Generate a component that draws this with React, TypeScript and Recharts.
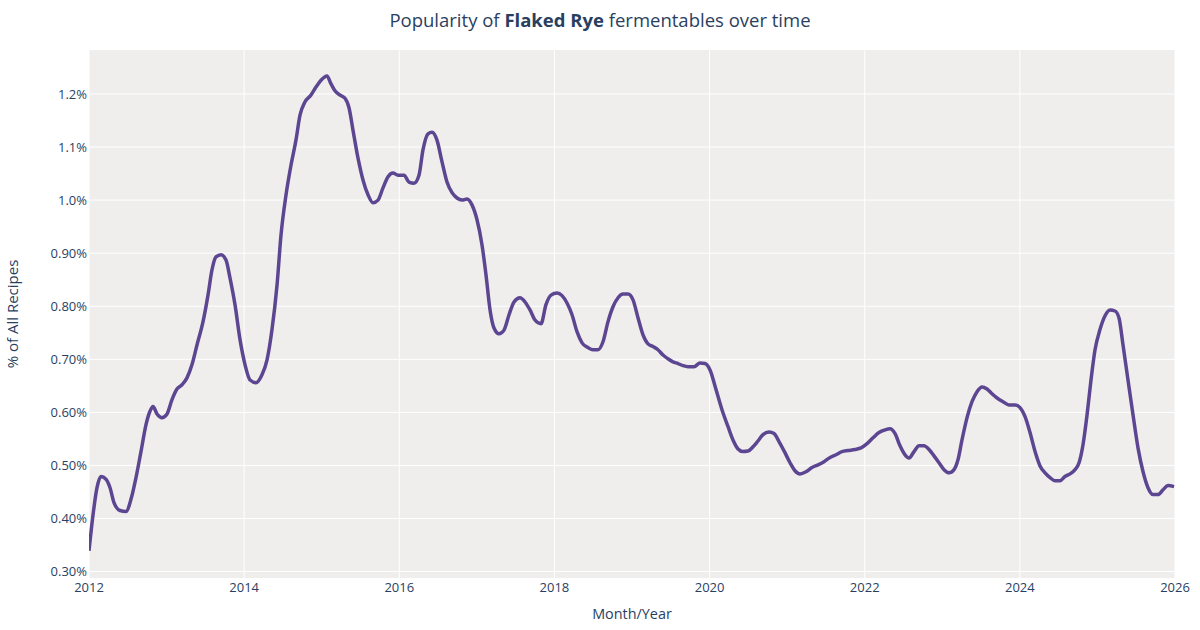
import React from "react";
import { LineChart, Line, XAxis, YAxis, CartesianGrid } from "recharts";

const years: number[] = [
  2012.0, 2012.052, 2012.103, 2012.155, 2012.219, 2012.271, 2012.322, 2012.4, 2012.477, 2012.541,
  2012.606, 2012.67, 2012.735, 2012.786, 2012.825, 2012.877, 2012.941, 2013.006, 2013.07, 2013.134,
  2013.199, 2013.263, 2013.328, 2013.392, 2013.47, 2013.534, 2013.586, 2013.637, 2013.702, 2013.766,
  2013.818, 2013.882, 2013.947, 2014.011, 2014.076, 2014.153, 2014.23, 2014.295, 2014.359, 2014.424,
  2014.475, 2014.54, 2014.604, 2014.668, 2014.72, 2014.784, 2014.862, 2014.926, 2014.991, 2015.068,
  2015.12, 2015.171, 2015.236, 2015.3, 2015.352, 2015.403, 2015.468, 2015.532, 2015.597, 2015.661,
  2015.726, 2015.79, 2015.855, 2015.919, 2015.984, 2016.061, 2016.125, 2016.19, 2016.254, 2016.306,
  2016.37, 2016.422, 2016.486, 2016.551, 2016.615, 2016.68, 2016.744, 2016.809, 2016.873, 2016.937,
  2017.002, 2017.066, 2017.118, 2017.17, 2017.221, 2017.286, 2017.35, 2017.415, 2017.479, 2017.556,
  2017.621, 2017.685, 2017.75, 2017.827, 2017.891, 2017.956, 2018.033, 2018.098, 2018.162, 2018.227,
  2018.291, 2018.356, 2018.433, 2018.497, 2018.562, 2018.626, 2018.691, 2018.755, 2018.82, 2018.884,
  2018.949, 2019.013, 2019.078, 2019.142, 2019.206, 2019.271, 2019.335, 2019.4, 2019.464, 2019.529,
  2019.593, 2019.658, 2019.722, 2019.8, 2019.877, 2019.941, 2020.006, 2020.083, 2020.16, 2020.238,
  2020.302, 2020.367, 2020.431, 2020.495, 2020.56, 2020.624, 2020.689, 2020.766, 2020.831, 2020.895,
  2020.972, 2021.037, 2021.101, 2021.166, 2021.243, 2021.32, 2021.398, 2021.475, 2021.553, 2021.63,
  2021.707, 2021.785, 2021.875, 2021.952, 2022.03, 2022.107, 2022.184, 2022.262, 2022.326, 2022.391,
  2022.455, 2022.52, 2022.571, 2022.636, 2022.7, 2022.764, 2022.829, 2022.893, 2022.958, 2023.022,
  2023.087, 2023.151, 2023.203, 2023.254, 2023.319, 2023.383, 2023.448, 2023.512, 2023.577, 2023.641,
  2023.706, 2023.783, 2023.86, 2023.938, 2024.002, 2024.067, 2024.131, 2024.196, 2024.26, 2024.325,
  2024.389, 2024.454, 2024.518, 2024.582, 2024.647, 2024.711, 2024.763, 2024.814, 2024.866, 2024.917,
  2024.969, 2025.033, 2025.098, 2025.162, 2025.227, 2025.278, 2025.33, 2025.394, 2025.459, 2025.523,
  2025.588, 2025.652, 2025.717, 2025.781, 2025.846, 2025.91, 2025.988,
];

const popularity: number[] = [
  0.339, 0.407, 0.458, 0.479, 0.474, 0.458, 0.43, 0.415, 0.413, 0.436,
  0.477, 0.526, 0.577, 0.602, 0.611, 0.597, 0.59, 0.597, 0.624, 0.644,
  0.652, 0.665, 0.69, 0.727, 0.771, 0.821, 0.869, 0.893, 0.897, 0.887,
  0.853, 0.803, 0.737, 0.69, 0.661, 0.656, 0.671, 0.699, 0.756, 0.84,
  0.934, 1.01, 1.066, 1.113, 1.16, 1.185, 1.198, 1.213, 1.226, 1.234,
  1.219, 1.206, 1.198, 1.192, 1.174, 1.132, 1.079, 1.038, 1.01, 0.995,
  1.0, 1.023, 1.044, 1.051, 1.047, 1.047, 1.034, 1.032, 1.047, 1.095,
  1.125, 1.128, 1.113, 1.072, 1.034, 1.014, 1.004, 1.0, 1.002, 0.991,
  0.963, 0.916, 0.859, 0.793, 0.759, 0.748, 0.755, 0.784, 0.808, 0.816,
  0.808, 0.793, 0.774, 0.767, 0.803, 0.821, 0.825, 0.82, 0.806, 0.784,
  0.752, 0.731, 0.722, 0.718, 0.718, 0.733, 0.771, 0.799, 0.816, 0.823,
  0.823, 0.812, 0.778, 0.746, 0.729, 0.724, 0.718, 0.708, 0.701, 0.695,
  0.692, 0.688, 0.686, 0.686, 0.693, 0.692, 0.68, 0.643, 0.605, 0.573,
  0.548, 0.531, 0.526, 0.527, 0.535, 0.546, 0.558, 0.563, 0.56, 0.545,
  0.524, 0.505, 0.49, 0.484, 0.488, 0.496, 0.501, 0.507, 0.515, 0.52,
  0.526, 0.528, 0.53, 0.533, 0.541, 0.552, 0.562, 0.567, 0.569, 0.56,
  0.537, 0.52, 0.514, 0.526, 0.537, 0.537, 0.53, 0.518, 0.505, 0.492,
  0.486, 0.492, 0.511, 0.548, 0.59, 0.62, 0.639, 0.648, 0.644, 0.635,
  0.627, 0.62, 0.614, 0.614, 0.609, 0.592, 0.562, 0.526, 0.499, 0.486,
  0.477, 0.471, 0.471, 0.479, 0.484, 0.492, 0.505, 0.539, 0.595, 0.661,
  0.718, 0.756, 0.782, 0.793, 0.791, 0.778, 0.727, 0.661, 0.595, 0.533,
  0.488, 0.458, 0.445, 0.445, 0.454, 0.462, 0.46,
];

const xTicks: number[] = [2012, 2014, 2016, 2018, 2020, 2022, 2024, 2026];
const yTicks: number[] = [0.3, 0.4, 0.5, 0.6, 0.7, 0.8, 0.9, 1.0, 1.1, 1.2];

const data = years.map((t, i) => ({ t, v: popularity[i] }));

const FONT = '"Open Sans", verdana, arial, sans-serif';
const TXT = "#2a3f5f";

const fmtY = (v: number) => (v < 0.999 ? v.toFixed(2) + "%" : v.toFixed(1) + "%");

export default function App() {
  return (
    <div style={{ position: "absolute", left: 0, top: 0, width: 1200, height: 630, background: "#fff", fontFamily: FONT }}>
      <LineChart
        width={1200}
        height={630}
        data={data}
        margin={{ top: 50, right: 25, bottom: 0, left: 0 }}
      >
        <CartesianGrid fill="#efeeed" stroke="#ffffff" strokeWidth={1} horizontalValues={yTicks} verticalValues={xTicks} />
        <XAxis
          dataKey="t"
          type="number"
          domain={[2012, 2026]}
          ticks={xTicks}
          tickLine={false}
          axisLine={false}
          height={52}
          tickSize={0}
          tickMargin={5}
          tick={{ fill: TXT, fontSize: 13, fontFamily: FONT }}
          allowDataOverflow
        />
        <YAxis
          type="number"
          domain={[0.2878, 1.2829]}
          ticks={yTicks}
          tickFormatter={fmtY}
          tickLine={false}
          axisLine={false}
          width={89}
          tickSize={0}
          tickMargin={2}
          tick={{ fill: TXT, fontSize: 13, fontFamily: FONT }}
          allowDataOverflow
        />
        <Line
          type="monotone"
          dataKey="v"
          stroke="#5c4691"
          strokeWidth={3.5}
          dot={false}
          isAnimationActive={false}
        />
      </LineChart>
      <div style={{ position: "absolute", left: 0, top: 7, width: 1200, height: 26, lineHeight: "26px", textAlign: "center", fontSize: 18.5, color: TXT }}>
        Popularity of <b>Flaked Rye</b> fermentables over time
      </div>
      <div style={{ position: "absolute", left: 89, top: 603, width: 1086, height: 22, lineHeight: "22px", textAlign: "center", fontSize: 14.4, color: TXT }}>
        Month/Year
      </div>
      <div style={{ position: "absolute", left: 12 - 100, top: 314 - 11, width: 200, height: 22, lineHeight: "22px", textAlign: "center", fontSize: 15, color: TXT, transform: "rotate(-90deg)" }}>
        % of All Recipes
      </div>
    </div>
  );
}
